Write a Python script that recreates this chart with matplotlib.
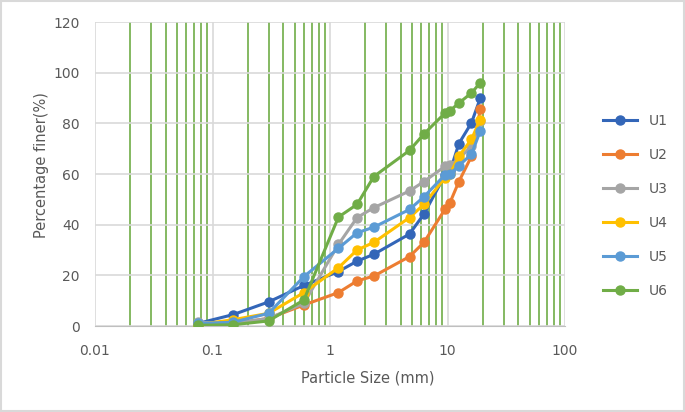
import matplotlib.pyplot as plt
from matplotlib.ticker import LogLocator, FixedLocator, NullFormatter

# sieve sizes (mm)
sizes = [0.075, 0.15, 0.3, 0.6, 1.18, 1.7, 2.36, 4.75, 6.3, 9.5, 10.5, 12.5, 16, 19]

u1 = [1.0, 4.5, 9.5, 16.0, 21.5, 25.6, 28.3, 36.3, 44.2, 59.5, 61.0, 72.0, 80.2, 89.9]
u2 = [0.5, 1.0, 3.0, 8.3, 13.2, 17.8, 19.7, 27.4, 33.0, 46.0, 48.7, 57.0, 67.0, 85.5]
u3 = [1.5, 1.0, 3.0, 9.0, 32.2, 42.8, 46.7, 53.3, 57.0, 63.0, 63.5, 66.0, 71.0, 81.0]
u4 = [0.5, 2.5, 5.0, 13.2, 23.0, 30.0, 33.0, 42.8, 48.0, 58.5, 60.0, 67.0, 73.7, 81.5]
u5 = [1.0, 1.5, 5.0, 19.5, 30.7, 36.8, 39.0, 46.0, 51.0, 59.6, 60.0, 63.3, 67.8, 77.0]
u6 = [0.3, 0.5, 2.0, 10.3, 43.0, 48.0, 59.0, 69.3, 75.8, 84.0, 85.0, 88.0, 92.0, 96.0]

labels = ["U1", "U2", "U3", "U4", "U5", "U6"]
colors = ["#3366B8", "#ED7D31", "#A5A5A5", "#FFC000", "#5B9BD5", "#70AD47"]
series = [u1, u2, u3, u4, u5, u6]

fig = plt.figure(figsize=(6.85, 4.12), dpi=100)
ax = fig.add_axes([95 / 685, 1 - 326 / 412, 470 / 685, 304 / 412])

for vals, lab, col in zip(series, labels, colors):
    ax.plot(sizes, vals, color=col, lw=2.2, marker="o", ms=6.5, label=lab, zorder=3)

ax.set_xscale("log")
ax.set_xlim(0.01, 100)
ax.set_ylim(0, 120)
ax.set_yticks(range(0, 121, 20))
ax.xaxis.set_major_locator(FixedLocator([0.01, 0.1, 1, 10, 100]))
ax.set_xticklabels(["0.01", "0.1", "1", "10", "100"])
ax.xaxis.set_minor_locator(LogLocator(base=10, subs=range(2, 10)))
ax.xaxis.set_minor_formatter(NullFormatter())

ax.grid(True, which="major", color="#D9D9D9", lw=1.2, zorder=0)
ax.grid(True, which="minor", axis="x", color="#70AD47", lw=1.2, zorder=1)
ax.set_axisbelow(True)

for s in ["top", "right", "left"]:
    ax.spines[s].set_visible(False)
ax.spines["bottom"].set_color("#BFBFBF")
ax.tick_params(which="both", length=0, colors="#595959", labelsize=10)
ax.tick_params(axis="x", pad=13)
ax.tick_params(axis="y", pad=11)

ax.set_xlabel("Particle Size (mm)", fontsize=10.5, color="#595959")
ax.xaxis.set_label_coords((368 - 95) / 470, -0.145)
ax.set_ylabel("Percentage finer(%)", fontsize=10.5, color="#595959")
ax.yaxis.set_label_coords(-0.098, (326 - 165) / 304)

ax.legend(loc="center left", bbox_to_anchor=(590 / 685, 0.5), bbox_transform=fig.transFigure,
          frameon=False, fontsize=10, labelspacing=1.45, handlelength=2.5,
          labelcolor="#595959")

fig.patches.append(plt.Rectangle((0.002, 0.003), 0.996, 0.994, transform=fig.transFigure,
                                 fill=False, edgecolor="#D9D9D9", lw=1.5))

fig.savefig("out.png", dpi=100)
